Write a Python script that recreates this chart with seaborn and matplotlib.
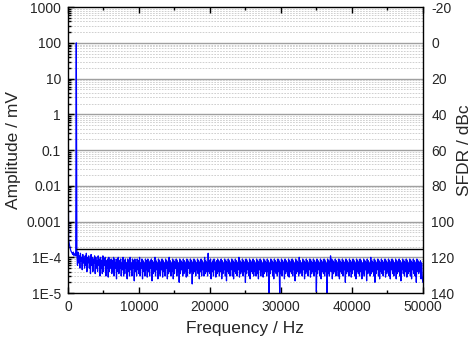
import numpy as np
import pandas as pd
import matplotlib
matplotlib.use("Agg")
import matplotlib.pyplot as plt
import matplotlib.ticker as mticker
import seaborn as sns

# ---- data ----
n_bins = 601
f_max = 50000
dc_value = 0.15                      # mV, bin 0
near_dc = [30, 24, 20, 17, 15, 14, 13, 12, 14, 11, 12, 13, 11]   # x1e-5 mV, bins 1..13
signal_peak = 100.0                  # mV, bin 14
noise = [  # x1e-5 mV, bins 15..600
    12, 6, 14, 7, 11, 5, 13, 8, 10, 4.5, 12, 7, 9, 5, 11, 6, 13, 4, 10, 7,
    11, 5, 9, 3.5, 12, 6, 10, 4, 9, 7, 11, 3.5, 10, 5, 8, 4, 11, 6, 9, 3,
    10, 5, 8, 3.5, 11, 4, 9, 6, 10, 3, 8, 5, 9, 2.8, 10, 4, 8, 5, 9, 3.5,
    8, 4, 10, 3, 9, 5, 7, 2.5, 9, 4, 10, 3.5, 8, 5, 9, 3, 7, 4.5, 10, 3,
    8, 3.5, 9, 5, 7, 2.5, 9, 4, 8, 3, 10, 4.5, 7, 3, 9, 5, 8, 2.2, 9, 4,
    7, 3, 9, 4.5, 8, 3.5, 10, 3, 7, 5, 9, 2.5, 8, 4, 7, 3, 9, 4.5, 8, 2.8,
    9, 4, 7, 3, 8, 5, 9, 2.2, 8, 3.5, 7, 4, 10, 3, 8, 4.5, 7, 2.5, 9, 3.5,
    8, 3, 7, 4.5, 9, 2.8, 8, 4, 7, 3, 9, 5, 8, 2.5, 7, 3.5, 10, 4, 8, 3,
    7, 4, 9, 2.5, 8, 3.5, 7, 5, 9, 3, 8, 4, 7, 2, 9, 3.5, 8, 4.5, 7, 3,
    9, 3.5, 8, 4, 7, 2.8, 9, 3, 8, 5, 7, 3.5, 9, 4, 8, 1.8, 7, 3.5, 9, 4,
    8, 3, 7, 4.5, 9, 3.5, 8, 2.5, 7, 4, 9, 3, 8, 4.5, 7, 3, 10, 3.5, 8, 4,
    7, 3, 13, 4, 8, 3.5, 9, 2.5, 7, 4, 8, 3, 9, 4.5, 7, 2.8, 8, 3.5, 9, 4,
    8, 3, 7, 4, 9, 2.5, 8, 3.5, 7, 4.5, 9, 3, 8, 2.2, 7, 4, 9, 3.5, 8, 3,
    7, 4.5, 9, 3, 8, 2.5, 7, 4, 9, 3.5, 8, 3, 7, 4.5, 10, 2.8, 8, 3.5, 7, 4,
    9, 3, 8, 4, 7, 2, 9, 3.5, 8, 4.5, 7, 3, 9, 2.5, 8, 4, 7, 3.5, 9, 3,
    8, 4, 7, 3, 9, 3.5, 8, 2.5, 7, 4.5, 9, 3, 8, 4, 7, 2.8, 9, 3.5, 8, 4,
    7, 3, 9, 4, 8, 1.0, 7, 3.5, 9, 4.5, 8, 3, 7, 2.5, 9, 4, 8, 3.5, 7, 3,
    9, 4, 8, 1.0, 7, 3.5, 9, 3, 8, 4.5, 7, 2.5, 9, 3.5, 8, 4, 7, 3, 9, 2.8,
    8, 4, 7, 3.5, 9, 3, 8, 4.5, 7, 2.2, 9, 3.5, 8, 4, 7, 3, 10, 3.5, 8, 4,
    7, 3, 9, 4.5, 8, 2.5, 7, 3.5, 9, 4, 8, 3, 7, 4.5, 9, 2.8, 8, 3.5, 7, 4,
    9, 3, 8, 4, 7, 1.1, 9, 3.5, 8, 4.5, 7, 3, 9, 2.5, 8, 4, 7, 3.5, 9, 3,
    8, 4, 7, 1.0, 9, 3.5, 8, 3, 7, 11, 4, 9, 2.5, 8, 3.5, 7, 4, 9, 3, 8,
    4.5, 7, 3, 9, 2.5, 8, 4, 7, 3.5, 9, 3, 8, 4.5, 7, 2, 9, 3.5, 8, 4, 7,
    3, 9, 4, 8, 2.8, 7, 3.5, 9, 4.5, 8, 3, 7, 2.5, 9, 4, 8, 3.5, 7, 3, 9,
    4, 8, 2.5, 7, 3.5, 9, 3, 8, 4.5, 7, 2.2, 9, 3.5, 8, 4, 7, 3, 10, 3.5, 8,
    4, 7, 3, 9, 2, 8, 3.5, 7, 4.5, 9, 3, 8, 2.5, 7, 4, 9, 3.5, 8, 3, 7,
    4.5, 9, 2.8, 8, 3.5, 7, 4, 9, 3, 8, 2.5, 7, 4.5, 9, 3.5, 8, 3, 7, 4, 9,
    2.5, 8, 3.5, 7, 4, 9, 3, 8, 2.2, 7, 4.5, 9, 3.5, 8, 3, 7, 4, 9, 2.8, 8,
    3.5, 7, 4, 9, 3, 8, 2.5, 7, 4.5, 9, 3.5, 8, 3, 7, 2, 9, 4, 8, 3.5, 7,
    4, 8, 2.5, 7, 3, 2,
]
sfdr_level = 1.7e-4                  # mV, spur line
y_tick_vals = [1e-5, 1e-4, 1e-3, 1e-2, 0.1, 1, 10, 100, 1000]
y_tick_labels = ["1E-5", "1E-4", "0.001", "0.01", "0.1", "1", "10", "100", "1000"]
x_ticks = [0, 10000, 20000, 30000, 40000, 50000]
dbc_ticks = [-20, 0, 20, 40, 60, 80, 100, 120, 140]

freq = np.linspace(0, f_max, n_bins)
amp = np.array([dc_value] + [v * 1e-5 for v in near_dc] + [signal_peak] + [v * 1e-5 for v in noise])
df = pd.DataFrame({"Frequency": freq, "Amplitude": amp})
peak_freq = freq[1 + len(near_dc)]

# ---- style ----
sns.set_style("ticks")
plt.rcParams["font.family"] = ["Liberation Sans", "DejaVu Sans"]

fig = plt.figure(figsize=(4.74, 3.40), dpi=100)
ax = fig.add_axes([0.1435, 0.138, 0.7485, 0.841])

# grid
for v in y_tick_vals[1:-1]:
    ax.axhline(v, color="#a0a0a0", lw=1.0, zorder=0)
for d in range(-5, 3):
    for m in range(2, 10):
        ax.axhline(m * 10.0 ** d, color="#c8c8c8", lw=0.6, ls=(0, (2, 1.5)), zorder=0)

sns.lineplot(data=df, x="Frequency", y="Amplitude", ax=ax, color="#0000ff",
             lw=0.9, estimator=None, zorder=2)
ax.hlines(sfdr_level, peak_freq, f_max, color="black", lw=1.0, zorder=3)

ax.set_yscale("log")
ax.set_ylim(1e-5, 1000)
ax.set_xlim(0, f_max)
ax.yaxis.set_major_locator(mticker.FixedLocator(y_tick_vals))
ax.yaxis.set_major_formatter(mticker.FixedFormatter(y_tick_labels))
ax.yaxis.set_minor_locator(mticker.LogLocator(base=10, subs=np.arange(2, 10), numticks=20))
ax.yaxis.set_minor_formatter(mticker.NullFormatter())
ax.set_xticks(x_ticks)
ax.set_xticklabels([str(t) for t in x_ticks])
ax.xaxis.set_minor_locator(mticker.MultipleLocator(5000))

ax.tick_params(which="both", direction="in", top=True, right=True, labelsize=10,
               width=1.0, color="black")
ax.tick_params(axis="y", pad=5)
ax.tick_params(axis="x", pad=5)
ax.tick_params(which="major", length=4)
ax.tick_params(which="minor", length=2)
for s in ax.spines.values():
    s.set_linewidth(1.0)
    s.set_color("black")

ax.set_xlabel("Frequency / Hz", fontsize=12.5, labelpad=5)
ax.set_ylabel("Amplitude / mV", fontsize=12.5, labelpad=4)

ax2 = ax.twinx()
ax2.set_ylim(140, -20)
ax2.set_yticks(dbc_ticks)
ax2.set_yticklabels([str(t) for t in dbc_ticks])
ax2.tick_params(axis="y", length=0, labelsize=10, pad=6)
ax2.set_ylabel("SFDR / dBc", fontsize=12.5, labelpad=2)
for s in ax2.spines.values():
    s.set_visible(False)

fig.savefig("out.png", dpi=100)
